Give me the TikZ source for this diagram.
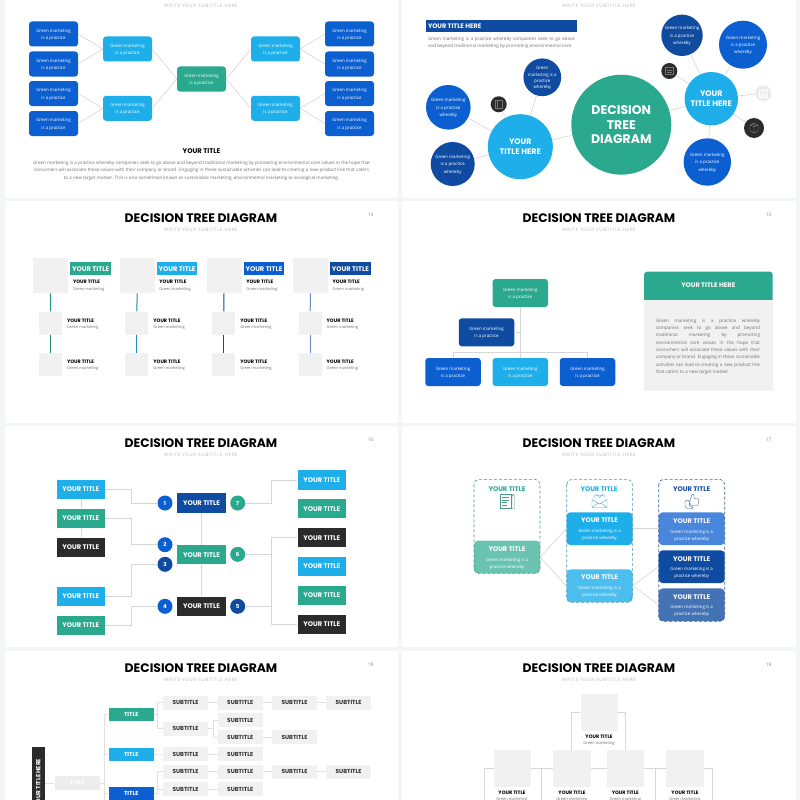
\documentclass[tikz,border=0pt]{standalone}
\usepackage{fontspec}
\setmainfont{Open Sans}
\newfontfamily\gm{Open Sans}
\newfontfamily\subf[LetterSpace=14]{Open Sans}
\newfontfamily\pop{Poppins}
\newcommand\gmf[2]{\gm\fontsize{#1}{#2}\selectfont}
\newcommand\popf[2]{\pop\bfseries\fontsize{#1}{#2}\selectfont}
\definecolor{teal1}{HTML}{2AA98F}
\definecolor{lb}{HTML}{1EAEEA}
\definecolor{bl}{HTML}{0B5FD0}
\definecolor{nv}{HTML}{0F4BA0}
\definecolor{dk}{HTML}{2B2B2B}
\definecolor{sq}{HTML}{F1F1F1}
\definecolor{ln}{HTML}{D6D6D6}
\definecolor{bodyt}{HTML}{707070}
\definecolor{bg}{HTML}{F4F5F7}
\newcount\nn
\newcommand\tx[4][]{\global\advance\nn by 1\relax\node[plaintx,#1] (n\the\nn) at (#2,#3) {#4};}
\newcommand\just[2]{\makebox[#1pt][s]{#2}}
\newcommand\st{\rule{0pt}{5pt}}
\newcommand\gmtwo{\st Green marketing\\is a practice}
\newcommand\gmthree{\st Green marketing\\is a practice\\whereby}
\newcommand\subt[2]{\tx[font={\subf\fontsize{4.6}{6}\selectfont},text=black!28]{#1}{#2}{WRITE YOUR SUBTITLE HERE}}
\newcommand\head[3]{%
 \tx[font={\popf{12.35}{14}}]{#1}{#2+0.4}{DECISION TREE DIAGRAM}
 \tx[font={\gmf{4.8}{6}},text=black!45]{#1+169.5}{#2-3}{#3}
 \subt{#1}{#2+12}}
\tikzset{
 plaintx/.style={inner sep=0pt,outer sep=0pt,align=center},
 conn/.style={draw=ln,line width=0.6pt},
 rb/.style={rounded corners=3pt,minimum width=49pt,minimum height=25pt,inner sep=0pt,text=white,align=center,font={\gmf{4.4}{7.4}}},
 rbig/.style={rounded corners=3pt,minimum width=55.5pt,minimum height=28pt,inner sep=0pt,text=white,align=center,font={\gmf{4.4}{7.4}}},
 sqr/.style={fill=sq,inner sep=0pt,minimum width=#1,minimum height=#1},
 lbl/.style={inner sep=0pt,text=white,font={\popf{6.7}{8}}},
 bub/.style={circle,inner sep=0pt,text=white,align=center,minimum size=#1},
 ysm/.style={font={\popf{4.9}{6}},text=black,inner sep=0pt,anchor=west},
 gsm/.style={font={\gmf{4.0}{6}},text=bodyt,inner sep=0pt,anchor=west},
 ysc/.style={ysm,anchor=center},
 gsc/.style={gsm,anchor=center},
 tbox/.style={fill=#1,minimum width=48.3pt,minimum height=19.3pt,inner sep=0pt,text=white,font={\popf{6.7}{8}}},
 num/.style={circle,fill=#1,minimum size=15pt,inner sep=0pt,text=white,font={\popf{5.5}{7}}},
 dsh/.style={draw=#1,densely dashed,line width=0.6pt,rounded corners=5pt},
 cb/.style={fill=#1,rounded corners=4pt,minimum width=66pt,minimum height=32.8pt,inner sep=0pt},
 sub1/.style={fill=sq,minimum width=45pt,minimum height=13.7pt,inner sep=0pt,text=black!80,font={\popf{5.8}{6}}},
 tt/.style={fill=#1,minimum width=45.3pt,minimum height=13.7pt,inner sep=0pt,text=white,font={\popf{5.8}{6}}},
 ico/.style={draw=#1,line width=0.35pt},
}
\begin{document}
\begin{tikzpicture}[x=1pt,y=-1pt]
\useasboundingbox (0,0) rectangle (800,800);
\clip (0,0) rectangle (800,800);
\fill[bg] (0,0) rectangle (800,800);
\fill[white] (5,0) rectangle (398,198);
\fill[white] (402,0) rectangle (796,198);
\fill[white] (5,201) rectangle (398,423);
\fill[white] (402,201) rectangle (796,423);
\fill[white] (5,426) rectangle (398,647);
\fill[white] (402,426) rectangle (796,647);
\fill[white] (5,651) rectangle (398,800);
\fill[white] (402,651) rectangle (796,800);

%% ---------- slide 1
\subt{201}{5.5}
\node[rb,fill=teal1] (c0) at (201.5,79) {\gmtwo};
\foreach \nm/\x/\y in {ml1/127.5/49,ml2/127.5/108.3,mr1/275.5/49,mr2/275.5/108.3}
  \node[rb,fill=lb] (\nm) at (\x,\y) {\gmtwo};
\foreach \nm/\x/\y in {a1/53.5/34,a2/53.5/64,a3/53.5/93.5,a4/53.5/123.5,b1/349.5/34,b2/349.5/64,b3/349.5/93.5,b4/349.5/123.5}
  \node[rb,fill=bl] (\nm) at (\x,\y) {\gmtwo};
\foreach \p/\q in {a1/ml1,a2/ml1,a3/ml2,a4/ml2,ml1/c0,ml2/c0}
  \draw[conn] (\p.east) -- (\q.west);
\foreach \p/\q in {b1/mr1,b2/mr1,b3/mr2,b4/mr2,mr1/c0,mr2/c0}
  \draw[conn] (\p.west) -- (\q.east);
\tx[font={\popf{6.8}{8}}]{201.5}{151.3}{YOUR TITLE}
\tx[font={\gmf{4.55}{7.5}},text=bodyt]{201.5}{170}{%
 \st\just{337}{Green marketing is a practice whereby companies seek to go above and beyond traditional marketing by promoting environmental core values in the hope that}\\
 \just{335}{consumers will associate these values with their company or brand. Engaging in these sustainable activities can lead to creating a new product line that caters}\\
 to a new target market. This is also sometimes known as sustainable marketing, environmental marketing or ecological marketing.}

%% ---------- slide 2
\subt{599}{5.5}
\node[fill=nv,minimum width=150.7pt,minimum height=12.3pt,inner sep=0pt,anchor=north west,text=white] (tb2) at (426,20) {};
\tx[anchor=west,text=white,font={\popf{6.5}{8}}]{428}{25.8}{YOUR TITLE HERE}
\tx[anchor=west,font={\gmf{4.55}{7.4}},text=bodyt,align=left]{428}{42}{\st\just{147}{Green marketing is a practice whereby companies seek to go above}\\and beyond traditional marketing by promoting environmental core.}
\node[bub=100pt,fill=teal1,font={\popf{12.5}{14.7}}] (big) at (621.3,124.7) {DECISION\\TREE\\DIAGRAM};
\node[bub=65pt,fill=lb,font={\popf{8}{10}}] (L) at (520.3,146.7) {YOUR\\TITLE HERE};
\node[bub=53.4pt,fill=lb,font={\popf{8}{10}}] (R) at (711.3,98.7) {YOUR\\TITLE HERE};
\node[bub=36pt,fill=nv,font={\gmf{4.4}{6.2}}] (L1) at (542.3,77.3) {\st Green\\marketing is a\\practice\\whereby};
\node[bub=44.6pt,fill=bl,font={\gmf{4.4}{7.3}}] (L2) at (448.3,107.3) {\gmthree};
\node[bub=44pt,fill=nv,font={\gmf{4.4}{7.3}}] (L3) at (452.7,164) {\gmthree};
\node[bub=41.4pt,fill=nv,font={\gmf{4.4}{7.3}}] (R1) at (682,35.3) {\gmthree};
\node[bub=48pt,fill=bl,font={\gmf{4.4}{7.3}}] (R2) at (743,44.7) {\gmthree};
\node[bub=47.4pt,fill=bl,font={\gmf{4.4}{7.3}}] (R3) at (707.3,162) {\gmthree};
\node[bub=16pt,fill=dk] (I1) at (498.7,104.3) {};
\node[bub=16pt,fill=dk] (I2) at (669.3,71) {};
\node[bub=16pt,fill=black!8] (I3) at (763.3,93.3) {};
\node[bub=20pt,fill=dk] (I4) at (754,128) {};
\foreach \p/\q in {big/L,big/R,L/L1,L/L2,L/L3,L/I1,R/R1,R/R2,R/R3,R/I2,R/I3,R/I4}
  \draw[conn] (\p) -- (\q);
% little icons
\draw[ico=black!55!white] (495.5,100.5) rectangle (502,108.5) (497,100.5) -- (497,108.5);
\draw[ico=black!55!white] (665.5,67.5) rectangle (673,74.5) (667,70) -- (671.5,70) (667,72) -- (671.5,72);
\draw[ico=white] (759.5,97) rectangle (767,90) (761.5,97) -- (761.5,93) (763.5,97) -- (763.5,91.5) (765.5,97) -- (765.5,94);
\draw[ico=black!45!white] (750,125) -- (754,123) -- (758,125) -- (758,131) -- (754,133) -- (750,131) -- cycle (750,125) -- (754,127) -- (758,125) (754,127) -- (754,133) (752,124) -- (756,126);

%% ---------- slide 3
\head{201}{218}{14}
\foreach \o/\c/\cn/\k in {33/teal1/teal1!85!black/1,119.4/lb/lb!80!black/2,206.3/bl/nv/3,292.7/nv/nv!65!white/4}{
  \node[sqr=35pt,anchor=north west] (big\k) at (\o,258) {};
  \node[fill=\c,minimum width=40.7pt,minimum height=13.3pt,lbl] (hd\k) at (\o+57.7,268.7) {YOUR TITLE};
  \tx[ysm]{\o+40}{282}{YOUR TITLE}
  \tx[gsm]{\o+40}{289}{Green marketing}
  \node[sqr=23pt] (s\k) at (\o+17.5,323) {};
  \node[sqr=23pt] (t\k) at (\o+17.5,364.5) {};
  \draw[draw=\cn,line width=1pt] (big\k.south) -- (s\k.north);
  \draw[draw=\cn,line width=1pt] (s\k.south) -- (t\k.north);
  \tx[ysm]{\o+34}{320.3}{YOUR TITLE}
  \tx[gsm]{\o+34}{327}{Green marketing}
  \tx[ysm]{\o+34}{361.3}{YOUR TITLE}
  \tx[gsm]{\o+34}{368}{Green marketing}
}

%% ---------- slide 4
\head{599}{218}{15}
\node[rbig,fill=teal1] (f0) at (520.3,293) {\gmtwo};
\node[rbig,fill=nv] (f1) at (486.5,332.3) {\gmtwo};
\node[rbig,fill=bl] (f2) at (453,372) {\gmtwo};
\node[rbig,fill=lb] (f3) at (520.3,372) {\gmtwo};
\node[rbig,fill=bl] (f4) at (587.5,372) {\gmtwo};
\coordinate (fj) at (520.3,352.3);
\draw[conn,line width=0.8pt] (f0.south) -- (f3.north);
\draw[conn,line width=0.8pt] (f1.east) -- (f1.east -| f0.south);
\draw[conn,line width=0.8pt] (f2.north) |- (fj) -| (f4.north);
\fill[teal1,rounded corners=3pt] (644,300) -- (644,271.7) -- (772.7,271.7) -- (772.7,300);
\fill[sq] (644,300) rectangle (772.7,390.7);
\tx[text=white,font={\popf{6.6}{8}}]{708.3}{285.5}{YOUR TITLE HERE}
\tx[anchor=north west,align=left,font={\gmf{4.55}{7.32}},text=bodyt]{656}{318.7}{%
 \just{104}{Green marketing is a practice whereby}\\
 \just{104}{companies seek to go above and beyond}\\
 \just{104}{traditional marketing by promoting}\\
 \just{104}{environmental core values in the hope that}\\
 \just{104}{consumers will associate these values with their}\\
 \just{104}{company or brand. Engaging in these sustainable}\\
 \just{104}{activities can lead to creating a new product line}\\
 that caters to a new target market.}

%% ---------- slide 5
\head{201}{443}{16}
\node[tbox=lb] (l1) at (80.8,489.3) {YOUR TITLE};
\node[tbox=teal1] (l2) at (80.8,518.3) {YOUR TITLE};
\node[tbox=dk] (l3) at (80.8,547.3) {YOUR TITLE};
\node[tbox=lb] (l4) at (80.8,596.3) {YOUR TITLE};
\node[tbox=teal1] (l5) at (80.8,625.3) {YOUR TITLE};
\node[tbox=nv] (m1) at (201.5,503) {YOUR TITLE};
\node[tbox=teal1] (m2) at (201.5,554.7) {YOUR TITLE};
\node[tbox=dk] (m3) at (201.5,606.3) {YOUR TITLE};
\node[tbox=lb] (r1) at (321.8,480) {YOUR TITLE};
\node[tbox=teal1] (r2) at (321.8,508.7) {YOUR TITLE};
\node[tbox=dk] (r3) at (321.8,537.7) {YOUR TITLE};
\node[tbox=lb] (r4) at (321.8,566.3) {YOUR TITLE};
\node[tbox=teal1] (r5) at (321.8,595.3) {YOUR TITLE};
\node[tbox=dk] (r6) at (321.8,624.3) {YOUR TITLE};
\node[num=bl] (c1) at (165,503) {1};
\node[num=bl] (c2) at (165,544.7) {2};
\node[num=nv] (c3) at (165,564.3) {3};
\node[num=bl] (c4) at (165,606.3) {4};
\node[num=nv] (c5) at (237.7,606.3) {5};
\node[num=teal1] (c6) at (237.7,554.3) {6};
\node[num=teal1] (c7) at (237.7,503) {7};
\draw[conn] (l1.south) -- (l2.north);
\draw[conn] (l2.south) -- (l3.north);
\draw[conn] (m1.south) -- (m2.north);
\draw[conn] (m2.south) -- (m3.north);
\draw[conn] (l1.east) -- ++(26.3,0) |- (c1.west);
\draw[conn] (l2.east) -- ++(26.3,0) |- (c2.west);
\draw[conn] (l4.east) -- ++(26.3,0) |- (c3.west);
\draw[conn] (l5.east) -- ++(26.3,0) |- (c4.west);
\draw[conn] (c7.east) -- ++(26.1,0) |- (r1.west);
\draw[conn] (c6.east) -- ++(26.1,0) |- (r3.west);
\draw[conn] (c6.east) -- ++(26.1,0) |- (r6.west);
\draw[conn] (c5.east) -- ++(26.1,0);

%% ---------- slide 6
\head{599}{443}{17}
\node[cb=teal1!70!white] (d1) at (507,557) {};
\node[cb=lb] (d2) at (599.5,528.7) {};
\node[cb=lb!80!white] (d3) at (599.5,585.8) {};
\node[cb=bl!75!white] (d4) at (691.7,528.7) {};
\node[cb=nv] (d5) at (691.7,566.7) {};
\node[cb=nv!78!white] (d6) at (691.7,604.8) {};
\draw[dsh=teal1!60!gray] (474,479.3) rectangle (540,573.3);
\draw[dsh=lb!55!gray] (566.7,479.3) rectangle (632.3,602.3);
\draw[dsh=nv!65!gray] (658.7,479.3) rectangle (724.7,621.3);
\foreach \x/\y in {507/549.5,599.5/520.5,599.5/577.5,691.7/521.5,691.7/558.7,691.7/596.7}{
  \tx[text=white,font={\popf{6.7}{8}}]{\x}{\y}{YOUR TITLE}
  \tx[text=white,font={\gmf{4.4}{7.3}}]{\x}{\y+13.5}{\st Green marketing is a\\practice whereby}
}
\tx[text=teal1,font={\popf{6.7}{8}}]{507}{488.7}{YOUR TITLE}
\tx[text=lb,font={\popf{6.7}{8}}]{599}{488.7}{YOUR TITLE}
\tx[text=nv,font={\popf{6.7}{8}}]{691.7}{488.7}{YOUR TITLE}
\draw[conn] (d1.east) -- (d2.west);
\draw[conn] (d1.east) -- (d3.west);
\draw[conn] (d2.east) -- (d4.west);
\draw[conn] (d3.east) -- (d5.west);
\draw[conn] (d3.east) -- (d6.west);
% icons
\draw[ico=teal1!60!gray] (500,494.5) rectangle (511,508.5) (502,497.5) -- (509,497.5) (502,500) -- (509,500) (502,502.5) -- (507,502.5) (502,505) -- (507,505);
\draw[ico=teal1!60!gray] (512,496) rectangle (514.5,508.5) (512,496) -- (513.2,494) -- (514.5,496);
\draw[ico=lb!60!gray] (592,499.5) -- (599.5,504) -- (607,499.5) -- (607,507.5) -- (592,507.5) -- cycle (592,507.5) -- (598,503) (607,507.5) -- (601,503) (594.5,498) -- (594.5,495.5) -- (604.5,495.5) -- (604.5,498) (596,494) -- (599.5,497.5) -- (603,494);
\draw[ico=nv!65!gray,rounded corners=1pt] (690,499.5) -- (691,497.5) -- (692,494) -- (694,494.5) -- (694,498.5) -- (699,499) -- (698,505.5) -- (692,505.5) -- (690,504.5) -- cycle (685,501) -- (689,500) -- (689.5,506) -- (693,507.5) -- (692,508.5) -- (687,508.5) -- (685,507) -- cycle;

%% ---------- slide 7
\head{201}{667.7}{18}
\node[fill=dk,minimum width=13.7pt,minimum height=70pt,inner sep=0pt,anchor=north west] (bar) at (31.3,746.7) {};
\tx[rotate=90,text=white,font={\popf{5.9}{7}}]{38.2}{783}{YOUR TITLE HERE}
\node[tt=black!7] (t0) at (77.2,782.8) {TITLE};
\node[tt=teal1] (t1) at (131.3,714.4) {TITLE};
\node[tt=lb] (t2) at (131.3,754.5) {TITLE};
\node[tt=bl] (t3) at (131.3,793.5) {TITLE};
\foreach \nm/\x/\y in {p1/185.5/702.7,p2/240.2/702.7,p3/294.5/702.7,p4/348.6/702.7,q1/185.5/728.7,q2/240.2/720,q3/240.2/737.3,q4/294.5/737.3,u1/185.5/754.3,u2/240.2/754.3,v1/185.5/771.7,v2/240.2/771.7,v3/294.5/771.7,v4/348.6/771.7,w1/185.5/789,w2/240.2/789}
  \node[sub1] (\nm) at (\x,\y) {SUBTITLE};
\tikzset{c7/.style={draw=black!12,line width=0.6pt}}
\coordinate (vend) at (104.3,806);
\draw[c7] (bar.east |- t0) -- (t0.west);
\draw[c7] (t0.east) -- (t0.east -| vend);
\draw[c7] (t1.west) -| (vend);
\draw[c7] (t2.west) -- (t2.west -| vend);
\draw[c7] (t3.west) -- (t3.west -| vend);
\draw[c7] (t1.east) -- ++(3.3,0) |- (p1.west);
\draw[c7] (t1.east) -- ++(3.3,0) |- (q1.west);
\draw[c7] (t2.east) -- (u1.west);
\draw[c7] (t3.east) -- ++(3.3,0) |- (v1.west);
\draw[c7] (t3.east) -- ++(3.3,0) |- (w1.west);
\draw[c7] (q1.east) -- ++(4.7,0) |- (q2.west);
\draw[c7] (q1.east) -- ++(4.7,0) |- (q3.west);
\foreach \p/\q in {p1/p2,p2/p3,p3/p4,q3/q4,u1/u2,v1/v2,v2/v3,v3/v4,w1/w2}
  \draw[c7] (\p.east) -- (\q.west);

%% ---------- slide 8
\head{599}{667.7}{19}
\node[sqr=37pt,anchor=north west] (h0) at (580.3,694) {};
\node[fill=sq,minimum width=36.3pt,minimum height=37pt,inner sep=0pt,anchor=north west] (h1) at (494,750) {};
\node[fill=sq,minimum width=38pt,minimum height=37pt,inner sep=0pt,anchor=north west] (h2) at (553,750) {};
\node[fill=sq,minimum width=36.3pt,minimum height=37pt,inner sep=0pt,anchor=north west] (h3) at (607,750) {};
\node[fill=sq,minimum width=37.7pt,minimum height=37pt,inner sep=0pt,anchor=north west] (h4) at (666,750) {};
\tx[ysc]{599}{736.7}{YOUR TITLE}
\tx[gsc]{599}{743.7}{Green marketing}
\foreach \x in {512,572,625.3,685}{
  \tx[ysc]{\x}{793}{YOUR TITLE}
  \tx[gsc]{\x}{799.5}{Green marketing}
}
\coordinate (e1) at (571.7,750);
\coordinate (e2) at (625.3,750);
\coordinate (g1) at (484.7,806);
\coordinate (g2) at (541.7,806);
\coordinate (g3) at (655.7,806);
\coordinate (g4) at (712.3,806);
\draw[conn,line width=0.8pt] (h0.west) -| (e1);
\draw[conn,line width=0.8pt] (h0.east) -| (e2);
\draw[conn,line width=0.8pt] (h1.west) -| (g1);
\draw[conn,line width=0.8pt] (h1.east) -| (g2);
\draw[conn,line width=0.8pt] (h2.west) -- (h1.east);
\draw[conn,line width=0.8pt] (h2.east) -- (h3.west);
\draw[conn,line width=0.8pt] (h3.east) -| (g3);
\draw[conn,line width=0.8pt] (h4.west) -- (h3.east);
\draw[conn,line width=0.8pt] (h4.east) -| (g4);
\end{tikzpicture}
\end{document}
